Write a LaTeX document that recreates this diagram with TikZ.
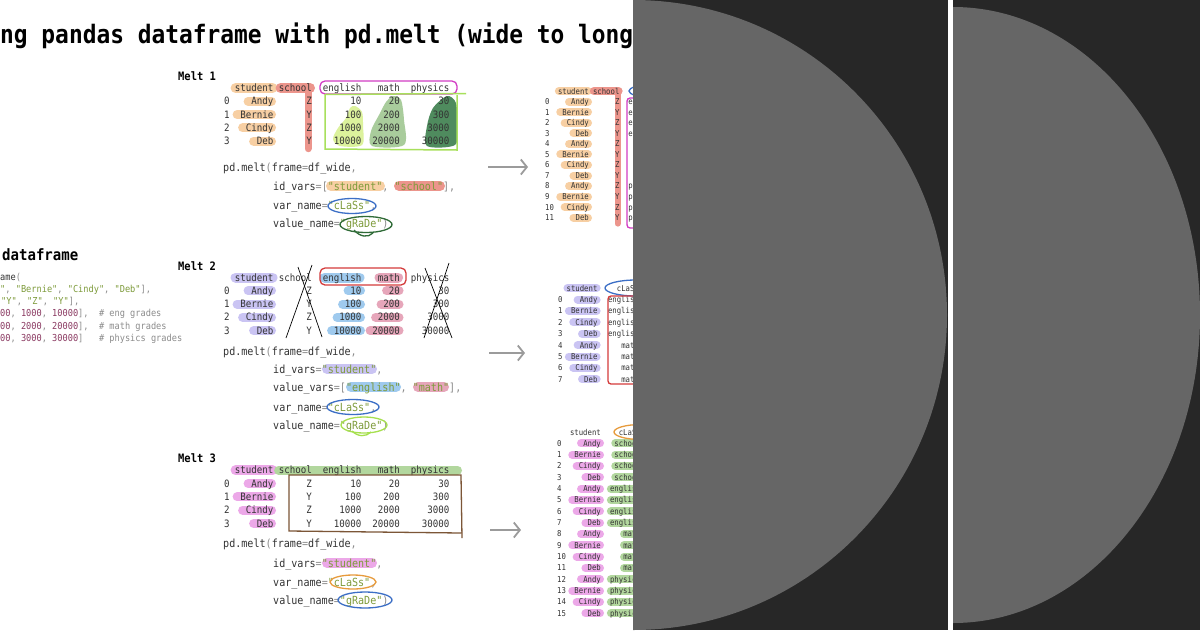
\documentclass[tikz,border=0pt]{standalone}
\usepackage{fontspec}
\setmonofont[FakeStretch=0.9]{DejaVu Sans Mono}
\usetikzlibrary{arrows.meta,backgrounds}
\definecolor{ink}{HTML}{333333}
\definecolor{punct}{HTML}{8C8C8C}
\definecolor{str}{HTML}{7E9B3B}
\definecolor{num}{HTML}{8B3A62}
\definecolor{peach}{HTML}{F7CFA3}
\definecolor{salmon}{HTML}{EC958C}
\definecolor{magline}{HTML}{D23CC4}
\definecolor{limeline}{HTML}{A8E05C}
\definecolor{limeblob}{HTML}{DCF29C}
\definecolor{sage}{HTML}{A9CC9C}
\definecolor{forest}{HTML}{4F8B5E}
\definecolor{ringblue}{HTML}{3C6FC6}
\definecolor{ringgreen}{HTML}{2F6B37}
\definecolor{lav}{HTML}{CAC4F3}
\definecolor{skyhl}{HTML}{9FCAEE}
\definecolor{rosehl}{HTML}{E6A6BA}
\definecolor{redline}{HTML}{D43B3B}
\definecolor{ringlime}{HTML}{A6E04E}
\definecolor{orchid}{HTML}{ECA8E8}
\definecolor{leaf}{HTML}{B2D79E}
\definecolor{bark}{HTML}{7C5637}
\definecolor{ringorange}{HTML}{E79B3C}
\definecolor{arrgray}{HTML}{9B9B9B}
\definecolor{panel}{HTML}{272727}
\definecolor{disc}{HTML}{666666}

\begin{document}
\begin{tikzpicture}[x=1pt,y=-1pt,every node/.style={inner sep=0pt,anchor=base west,text=ink},
  tab/.style={font=\ttfamily\fontsize{10.15}{12}\selectfont},
  outt/.style={font=\ttfamily\fontsize{8.1}{10}\selectfont},
  code/.style={font=\ttfamily\fontsize{11.2}{13}\selectfont},
  src/.style={font=\ttfamily\fontsize{9.6}{11}\selectfont},
  head/.style={font=\ttfamily\bfseries\fontsize{11.6}{13}\selectfont,text=black},
  hl/.style={line width=#1,line cap=round},hl/.default=9pt,
  ring/.style={line width=1.3pt},
  arr/.style={draw=arrgray,line width=1.8pt,-{Straight Barb[length=6pt,width=15pt]}}]
\useasboundingbox (0,0) rectangle (1200,630);
\begin{scope}[on background layer] \fill[white] (0,0) rectangle (1200,630); \end{scope}

% title and source frame
\node[font=\ttfamily\bfseries\fontsize{25.4}{28}\selectfont,text=black] (title) at (0,43) {ng pandas dataframe with pd.melt (wide to long};
\node[font=\ttfamily\bfseries\fontsize{15.6}{18}\selectfont,text=black] (dfhead) at (2,260) {dataframe};
\node[src] (src1) at (0,280) {\textcolor{ink}{ame}\textcolor{punct}{(}};
\node[src] (src2) at (0,292) {\textcolor{str}{"}\textcolor{punct}{, }\textcolor{str}{"Bernie"}\textcolor{punct}{, }\textcolor{str}{"Cindy"}\textcolor{punct}{, }\textcolor{str}{"Deb"}\textcolor{punct}{],}};
\node[src] (src3) at (1,304) {\textcolor{str}{"Y"}\textcolor{punct}{, }\textcolor{str}{"Z"}\textcolor{punct}{, }\textcolor{str}{"Y"}\textcolor{punct}{],}};
\node[src] (src4) at (0,316.5) {\textcolor{num}{00}\textcolor{punct}{, }\textcolor{num}{1000}\textcolor{punct}{, }\textcolor{num}{10000}\textcolor{punct}{],}\ \ \textcolor{punct}{\# eng grades}};
\node[src] (src5) at (0,329) {\textcolor{num}{00}\textcolor{punct}{, }\textcolor{num}{2000}\textcolor{punct}{, }\textcolor{num}{20000}\textcolor{punct}{],}\ \ \textcolor{punct}{\# math grades}};
\node[src] (src6) at (0,341) {\textcolor{num}{00}\textcolor{punct}{, }\textcolor{num}{3000}\textcolor{punct}{, }\textcolor{num}{30000}\textcolor{punct}{]}\ \ \ \textcolor{punct}{\# physics grades}};

% wide tables
\foreach \t/\y in {1/91.5,2/281,3/473.8}{
  \node[head] (melt\t) at (178,\y-11) {Melt \t};
  \node[tab,anchor=base east] (t\t-hs) at (273.5,\y) {student};
  \node[tab,anchor=base east] (t\t-hc) at (312,\y) {school};
  \node[tab,anchor=base east] (t\t-he) at (361.5,\y) {english};
  \node[tab,anchor=base east] (t\t-hm) at (400,\y) {math};
  \node[tab,anchor=base east] (t\t-hp) at (449.5,\y) {physics};
  \foreach \nm/\sc/\en/\ma/\ph [count=\i from 0] in {Andy/Z/10/20/30,Bernie/Y/100/200/300,Cindy/Z/1000/2000/3000,Deb/Y/10000/20000/30000}{
    \node[tab] (t\t-i\i) at (224,\y+13.3+13.3*\i) {\i};
    \node[tab,anchor=base east] (t\t-n\i) at (273.5,\y+13.3+13.3*\i) {\nm};
    \node[tab,anchor=base east] (t\t-c\i) at (312,\y+13.3+13.3*\i) {\sc};
    \node[tab,anchor=base east] (t\t-e\i) at (361.5,\y+13.3+13.3*\i) {\en};
    \node[tab,anchor=base east] (t\t-m\i) at (400,\y+13.3+13.3*\i) {\ma};
    \node[tab,anchor=base east] (t\t-p\i) at (449.5,\y+13.3+13.3*\i) {\ph};
  }
}

% pd.melt calls
\node[code] (c1-a) at (223,171) {pd.melt\textcolor{punct}{(}frame\textcolor{punct}{=}df\_wide\textcolor{punct}{,}};
\node[code] (c1-b) at (273,190) {id\_vars\textcolor{punct}{=[}\textcolor{str}{"student"}\textcolor{punct}{, }\textcolor{str}{"school"}\textcolor{punct}{],}};
\node[code] (c1-c) at (273,209) {var\_name\textcolor{punct}{=}\textcolor{str}{"cLaSs"}\textcolor{punct}{,}};
\node[code] (c1-d) at (273,227) {value\_name\textcolor{punct}{=}\textcolor{str}{"gRaDe"}\textcolor{punct}{)}};
\node[code] (c2-a) at (223,355) {pd.melt\textcolor{punct}{(}frame\textcolor{punct}{=}df\_wide\textcolor{punct}{,}};
\node[code] (c2-b) at (273,373) {id\_vars\textcolor{punct}{=}\textcolor{str}{"student"}\textcolor{punct}{,}};
\node[code] (c2-c) at (273,391) {value\_vars\textcolor{punct}{=[}\textcolor{str}{"english"}\textcolor{punct}{, }\textcolor{str}{"math"}\textcolor{punct}{],}};
\node[code] (c2-d) at (273,411) {var\_name\textcolor{punct}{=}\textcolor{str}{"cLaSs"}\textcolor{punct}{,}};
\node[code] (c2-e) at (273,429) {value\_name\textcolor{punct}{=}\textcolor{str}{"gRaDe"}\textcolor{punct}{)}};
\node[code] (c3-a) at (223,547) {pd.melt\textcolor{punct}{(}frame\textcolor{punct}{=}df\_wide\textcolor{punct}{,}};
\node[code] (c3-b) at (273,567) {id\_vars\textcolor{punct}{=}\textcolor{str}{"student"}\textcolor{punct}{,}};
\node[code] (c3-c) at (273,586) {var\_name\textcolor{punct}{=}\textcolor{str}{"cLaSs"}\textcolor{punct}{,}};
\node[code] (c3-d) at (273,604) {value\_name\textcolor{punct}{=}\textcolor{str}{"gRaDe"}\textcolor{punct}{)}};

% long tables
\foreach \tb/\xi/\xn/\xc/\yh/\dy/\cls in {1/545/589/659.4/94/10.55/{english,math,physics},2/558/597.6/639/291/11.4/{english,math},3/557/601/641/435/11.33/{school,english,math,physics}}{
  \node[outt,anchor=base east] (o\tb-hs) at (\xn,\yh) {student};
  \node[outt,anchor=base east] (o\tb-hv) at (\xc,\yh) {cLaSs};
  \foreach \cl [count=\k from 0] in \cls
    \foreach \nm [count=\j from 0] in {Andy,Bernie,Cindy,Deb}{
      \pgfmathtruncatemacro\i{4*\k+\j}
      \node[outt] (o\tb-i\i) at (\xi,\yh+\dy+\dy*\i) {\i};
      \node[outt,anchor=base east] (o\tb-n\i) at (\xn,\yh+\dy+\dy*\i) {\nm};
      \node[outt,anchor=base east] (o\tb-v\i) at (\xc,\yh+\dy+\dy*\i) {\cl};
    }
}
\node[outt,anchor=base east] (o1-hc) at (619.6,94) {school};
\foreach \sc [count=\i from 0] in {Z,Y,Z,Y,Z,Y,Z,Y,Z,Y,Z,Y}
  \node[outt,anchor=base east] (o1-c\i) at (619.6,104.55+10.55*\i) {\sc};

% marker strokes
\begin{scope}[on background layer]
  \foreach \t/\c in {1/peach,2/lav,3/orchid}{
    \draw[hl=10pt,draw=\c] ([xshift=1pt,yshift=3.5pt]t\t-hs.base west) -- ([xshift=-1pt,yshift=3.5pt]t\t-hs.base east);
    \foreach \i in {0,...,3}
      \draw[hl,draw=\c] ([xshift=-3pt,yshift=3.5pt]t\t-n\i.base west) -- ([xshift=-2pt,yshift=3.5pt]t\t-n\i.base east);
  }
  \draw[hl=10pt,draw=salmon] ([xshift=2pt,yshift=3.5pt]t1-hc.base west) -- ([xshift=-2pt,yshift=3.5pt]t1-hc.base east);
  \draw[hl=7pt,draw=salmon] ([xshift=-4pt,yshift=3pt]t1-hc.base east) -- ([xshift=-4pt,yshift=-4pt]t1-c3.base east);
  \fill[limeblob] plot[smooth cycle] coordinates {(355,106) (362,112) (363,126) (362,145) (340,146) (333,139) (338,128) (346,118) (350,108)};
  \fill[sage] plot[smooth cycle] coordinates {(393,96) (401,100) (404,120) (404,145) (372,146) (371,131) (379,115) (386,102)};
  \fill[forest] plot[smooth cycle] coordinates {(447,96) (456,103) (457,125) (455,145) (427,146) (427,126) (433,108)};
  \foreach \i in {0,...,3}{
    \draw[hl,draw=skyhl] ([xshift=-2pt,yshift=3.5pt]t2-e\i.base west) -- ([xshift=-1pt,yshift=3.5pt]t2-e\i.base east);
    \draw[hl,draw=rosehl] ([xshift=-2pt,yshift=3.5pt]t2-m\i.base west) -- ([xshift=-1pt,yshift=3.5pt]t2-m\i.base east);
  }
  \draw[hl=10pt,draw=skyhl] ([xshift=2pt,yshift=3.5pt]t2-he.base west) -- ([xshift=-2pt,yshift=3.5pt]t2-he.base east);
  \draw[hl=10pt,draw=rosehl] ([xshift=2pt,yshift=3.5pt]t2-hm.base west) -- ([xshift=-2pt,yshift=3.5pt]t2-hm.base east);
  \draw[hl,draw=leaf] ([yshift=3.5pt]t3-hc.base west) -- ([xshift=8pt,yshift=3.5pt]t3-hp.base east);
  \draw[hl=10pt,draw=peach] (331,186) -- (380,186);
  \draw[hl=10pt,draw=salmon] (399,186) -- (440,186);
  \draw[hl=10pt,draw=lav] (327,369) -- (372,369);
  \draw[hl=10pt,draw=skyhl] (351,387) -- (396,387);
  \draw[hl=10pt,draw=rosehl] (418,387) -- (444,387);
  \draw[hl=10pt,draw=orchid] (327,563) -- (372,563);
  \foreach \tb/\c/\n in {1/peach/11,2/lav/7,3/orchid/15}
    \foreach \i in {0,...,\n}
      \draw[hl=8pt,draw=\c] ([xshift=-2pt,yshift=2.9pt]o\tb-n\i.base west) -- ([xshift=-1pt,yshift=2.9pt]o\tb-n\i.base east);
  \draw[hl=8pt,draw=peach] ([xshift=1pt,yshift=2.9pt]o1-hs.base west) -- ([xshift=-1pt,yshift=2.9pt]o1-hs.base east);
  \draw[hl=8pt,draw=lav] ([xshift=1pt,yshift=2.9pt]o2-hs.base west) -- ([xshift=-1pt,yshift=2.9pt]o2-hs.base east);
  \draw[hl=8pt,draw=salmon] ([xshift=1pt,yshift=2.9pt]o1-hc.base west) -- ([xshift=-1pt,yshift=2.9pt]o1-hc.base east);
  \draw[hl=6pt,draw=salmon] ([xshift=-2pt,yshift=3pt]o1-hc.base east) -- ([xshift=-2pt,yshift=-3pt]o1-c11.base east);
  \foreach \i in {0,...,15}
    \draw[hl=8pt,draw=leaf] ([xshift=1pt,yshift=2.9pt]o3-v\i.base west) -- ([xshift=10pt,yshift=2.9pt]o3-v\i.base east);
\end{scope}

% pen outlines
\draw[ring,magline,rounded corners=5pt] (320,81) rectangle (457,94);
\draw[limeline,line width=1.5pt] (466,93.5) -- (325,94.5) -- (325,149) -- (457,150) -- (457,95);
\draw[ring,ringblue] (352,206) ellipse[x radius=24,y radius=7.5];
\draw[ring,ringgreen] (366,224.5) ellipse[x radius=26,y radius=8];
\draw[ring,ringgreen] (354,230) .. controls (360,237) and (368,238) .. (373,233);
\draw[ring,redline,rounded corners=5pt] (320,268) rectangle (406,285);
\draw[line width=0.7pt] (312,265) -- (286,338);
\draw[line width=0.7pt] (298,267) -- (322,337);
\draw[line width=0.7pt] (449,263) -- (424,338);
\draw[line width=0.7pt] (425,268) -- (452,338);
\draw[ring,ringblue] (353,407) ellipse[x radius=26,y radius=7.5];
\draw[ring,ringlime] (364,425) ellipse[x radius=23,y radius=8];
\draw[ring,ringlime] (352,431) .. controls (358,437) and (366,437) .. (371,432);
\draw[bark,line width=1.3pt] (461,533) -- (289,531) -- (289,475) -- (461,475) -- (462,538);
\draw[ring,ringorange] (353,582) ellipse[x radius=23,y radius=7];
\draw[ring,ringblue] (365,600) ellipse[x radius=27,y radius=8];
\draw[ring,magline] (634,98) .. controls (627,98) .. (627,105) -- (627,221) .. controls (627,228) .. (634,228);
\draw[ring,ringblue] (649,91) ellipse[x radius=20,y radius=6];
\draw[ring,ringblue] (636,288) ellipse[x radius=31,y radius=8];
\draw[ring,redline,rounded corners=3pt] (645,296) -- (608,296) -- (608,384) -- (645,384);
\draw[ring,ringorange] (641,432) ellipse[x radius=27,y radius=7.5];

% wide to long arrows
\coordinate (a1s) at (488,167); \coordinate (a1e) at (528,167);
\coordinate (a2s) at (489,353); \coordinate (a2e) at (525,353);
\coordinate (a3s) at (490,530); \coordinate (a3e) at (521,530);
\draw[arr] (a1s) -- (a1e); \draw[arr] (a2s) -- (a2e); \draw[arr] (a3s) -- (a3e);

% dark panels
\fill[panel] (633,0) rectangle (948,630);
\fill[panel] (953,0) rectangle (1200,630);
\begin{scope} \clip (633,0) rectangle (948,630); \fill[disc] (633,315) ellipse[x radius=314,y radius=315]; \end{scope}
\begin{scope} \clip (953,0) rectangle (1200,630); \fill[disc] (953,315) ellipse[x radius=247,y radius=308]; \end{scope}
\end{tikzpicture}
\end{document}
